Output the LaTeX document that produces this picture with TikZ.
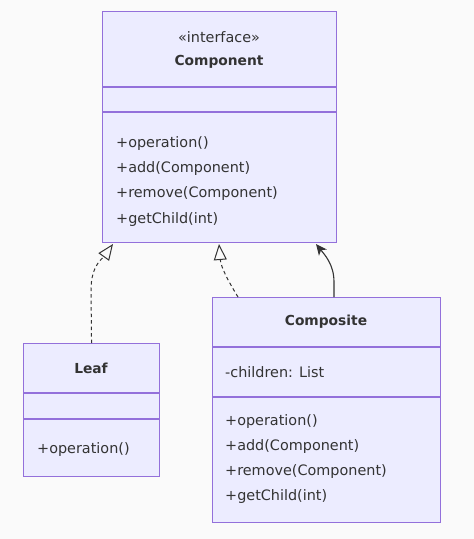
\documentclass[tikz,border=0pt]{standalone}
\usepackage{fontspec}
\setmainfont{DejaVu Sans}
\usetikzlibrary{arrows.meta,calc}
\definecolor{boxfill}{HTML}{ECECFF}
\definecolor{boxline}{HTML}{9370DB}
\definecolor{txt}{HTML}{333333}
\definecolor{bg}{HTML}{FAFAFA}
\tikzset{
  classbox/.style={draw=boxline, fill=boxfill, line width=1.1pt, inner sep=0pt, anchor=north west},
  sep/.style={draw=boxline, line width=1.1pt},
  lbl/.style={text=txt, inner sep=0pt, font=\fontsize{14.4}{17}\selectfont, anchor=west},
  ttl/.style={text=txt, inner sep=0pt, font=\fontsize{13.8}{16}\selectfont\bfseries},
  real/.style={draw=txt, line width=1pt, dashed, dash pattern=on 3.5pt off 3pt, -{Triangle[open, length=16pt, width=13pt, line width=1pt]}},
  assoc/.style={draw=txt, line width=1.1pt, -{Stealth[length=11pt, width=10pt, inset=3pt]}}
}
\begin{document}
\begin{tikzpicture}[x=1pt,y=-1pt]
\fill[bg] (0,0) rectangle (474,539);
\useasboundingbox (0,0) rectangle (474,539);
% Component
\node[classbox, minimum width=233.5pt, minimum height=231pt] (comp) at (102,11) {};
\draw[sep] (102,87) -- (335.5,87);
\draw[sep] (102,112) -- (335.5,112);
\node[text=txt, inner sep=0pt, font=\fontsize{14.4}{17}\selectfont] (compst) at (219,37) {«interface»};
\node[ttl] (compname) at (219,62) {Component};
\node[lbl] (cm1) at (116,144) {+operation()};
\node[lbl] (cm2) at (116,169) {+add(Component)};
\node[lbl] (cm3) at (116,194) {+remove(Component)};
\node[lbl] (cm4) at (116,220) {+getChild(int)};
% Leaf
\node[classbox, minimum width=136pt, minimum height=133pt] (leaf) at (23,343) {};
\draw[sep] (23,393) -- (159,393);
\draw[sep] (23,419) -- (159,419);
\node[ttl] (leafname) at (91,368) {Leaf};
\node[lbl] (lm1) at (37,450) {+operation()};
% Composite
\node[classbox, minimum width=228pt, minimum height=225pt] (compo) at (212,297) {};
\draw[sep] (212,347) -- (440,347);
\draw[sep] (212,397) -- (440,397);
\node[ttl] (componame) at (326,322) {Composite};
\node[lbl] (ca1) at (225,372) {-children: List};
\node[lbl] (co1) at (225,422) {+operation()};
\node[lbl] (co2) at (225,447) {+add(Component)};
\node[lbl] (co3) at (225,472) {+remove(Component)};
\node[lbl] (co4) at (225,497) {+getChild(int)};
% connectors
\coordinate (lt) at (113,244);
\coordinate (mt) at (219,244);
\coordinate (at) at (316,244);
\coordinate (ms) at (238,297);
\coordinate (as) at (334,297);
\draw[real] (leaf.north) -- (91,290) .. controls (91,265) and (103,258) .. (lt);
\draw[real] (ms) .. controls (230,284) and (221,268) .. (mt);
\draw[assoc] (as) -- (334,282) .. controls (334,264) and (324,254) .. (at);
\end{tikzpicture}
\end{document}
